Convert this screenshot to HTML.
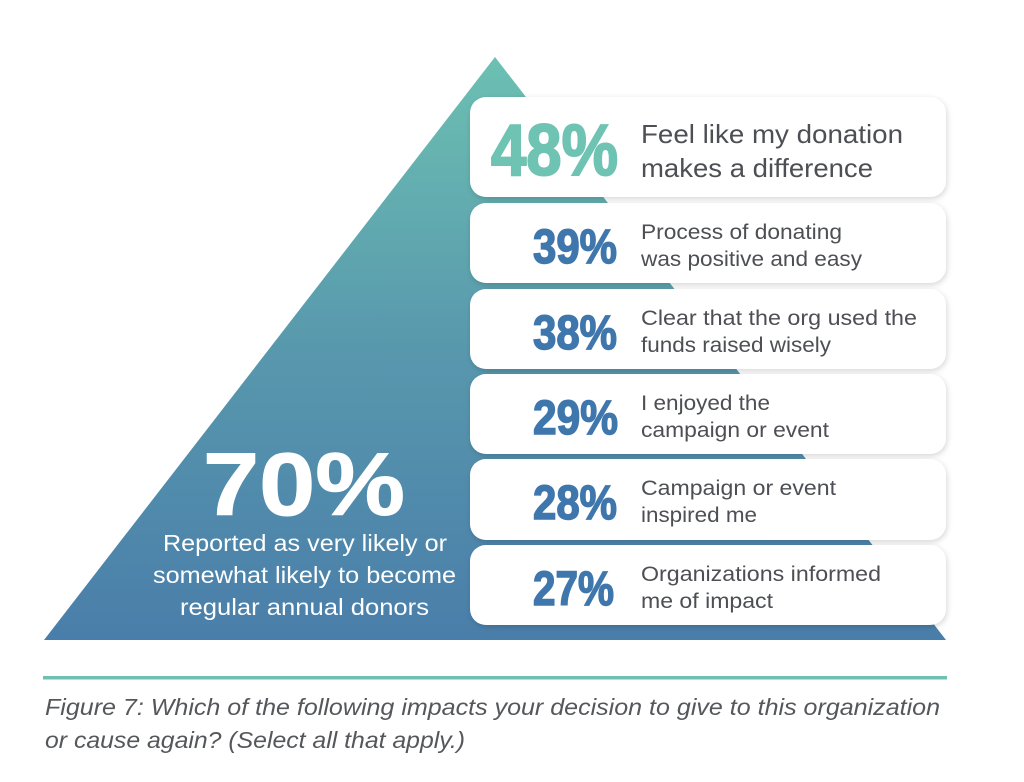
<!DOCTYPE html>
<html>
<head>
<meta charset="utf-8">
<style>
  html,body{margin:0;padding:0;background:#fff;}
  svg{display:block;}
  text{font-family:"Liberation Sans",sans-serif;}
</style>
</head>
<body>
<svg width="1024" height="782" viewBox="0 0 1024 782" xmlns="http://www.w3.org/2000/svg">
  <defs>
    <linearGradient id="tri" x1="0" y1="57" x2="0" y2="640" gradientUnits="userSpaceOnUse">
      <stop offset="0" stop-color="#6cc0b2"/>
      <stop offset="0.5" stop-color="#5898ad"/>
      <stop offset="1" stop-color="#4a7eaa"/>
    </linearGradient>
    <filter id="sh" x="-10%" y="-20%" width="120%" height="150%">
      <feDropShadow dx="1" dy="2" stdDeviation="3" flood-color="#000" flood-opacity="0.16"/>
    </filter>
  </defs>

  <!-- triangle -->
  <polygon points="495,57 946,640 44,640" fill="url(#tri)"/>

  <!-- boxes -->
  <g filter="url(#sh)" fill="#fff">
    <rect x="470" y="97" width="476" height="100" rx="16" ry="16"/>
    <rect x="470" y="203" width="476" height="80" rx="16" ry="16"/>
    <rect x="470" y="289" width="476" height="80" rx="16" ry="16"/>
    <rect x="470" y="374" width="476" height="80" rx="16" ry="16"/>
    <rect x="470" y="459" width="476" height="81" rx="16" ry="16"/>
    <rect x="470" y="545" width="476" height="80" rx="16" ry="16"/>
  </g>

  <!-- box 1 -->
  <text x="491" y="175" font-size="72" font-weight="bold" fill="#6ec3b3" stroke="#6ec3b3" stroke-width="2" textLength="127" lengthAdjust="spacingAndGlyphs">48%</text>
  <text x="641" y="143" font-size="26" fill="#4d4f54" textLength="262" lengthAdjust="spacingAndGlyphs">Feel like my donation</text>
  <text x="641" y="177" font-size="26" fill="#4d4f54" textLength="232" lengthAdjust="spacingAndGlyphs">makes a difference</text>

  <g fill="#3f77ad" stroke="#3f77ad" stroke-width="1.5" font-size="48" font-weight="bold">
    <text x="533" y="263" textLength="84" lengthAdjust="spacingAndGlyphs">39%</text>
    <text x="533" y="349" textLength="84" lengthAdjust="spacingAndGlyphs">38%</text>
    <text x="533" y="434" textLength="85" lengthAdjust="spacingAndGlyphs">29%</text>
    <text x="533" y="519" textLength="84" lengthAdjust="spacingAndGlyphs">28%</text>
    <text x="533" y="605" textLength="81" lengthAdjust="spacingAndGlyphs">27%</text>
  </g>

  <g fill="#4d4f54" font-size="21">
    <text x="641" y="239" textLength="201" lengthAdjust="spacingAndGlyphs">Process of donating</text>
    <text x="641" y="266" textLength="221" lengthAdjust="spacingAndGlyphs">was positive and easy</text>
    <text x="641" y="325" textLength="276" lengthAdjust="spacingAndGlyphs">Clear that the org used the</text>
    <text x="641" y="352" textLength="190" lengthAdjust="spacingAndGlyphs">funds raised wisely</text>
    <text x="641" y="410" textLength="129" lengthAdjust="spacingAndGlyphs">I enjoyed the</text>
    <text x="641" y="437" textLength="188" lengthAdjust="spacingAndGlyphs">campaign or event</text>
    <text x="641" y="495" textLength="195" lengthAdjust="spacingAndGlyphs">Campaign or event</text>
    <text x="641" y="522" textLength="116" lengthAdjust="spacingAndGlyphs">inspired me</text>
    <text x="641" y="581" textLength="240" lengthAdjust="spacingAndGlyphs">Organizations informed</text>
    <text x="641" y="608" textLength="132" lengthAdjust="spacingAndGlyphs">me of impact</text>
  </g>

  <!-- triangle text -->
  <text x="203" y="515" font-size="89" font-weight="bold" fill="#fff" stroke="#fff" stroke-width="1" textLength="202" lengthAdjust="spacingAndGlyphs">70%</text>
  <text x="163" y="551" font-size="23" fill="#fff" textLength="284" lengthAdjust="spacingAndGlyphs">Reported as very likely or</text>
  <text x="153" y="583" font-size="23" fill="#fff" textLength="303" lengthAdjust="spacingAndGlyphs">somewhat likely to become</text>
  <text x="180" y="615" font-size="23" fill="#fff" textLength="249" lengthAdjust="spacingAndGlyphs">regular annual donors</text>

  <!-- separator -->
  <rect x="43" y="676" width="904" height="3.5" fill="#6fc0b3"/>

  <!-- caption -->
  <text x="45" y="715" font-size="23" font-style="italic" fill="#55575b" textLength="895" lengthAdjust="spacingAndGlyphs">Figure 7: Which of the following impacts your decision to give to this organization</text>
  <text x="45" y="748" font-size="23" font-style="italic" fill="#55575b" textLength="420" lengthAdjust="spacingAndGlyphs">or cause again? (Select all that apply.)</text>
</svg>
</body>
</html>
